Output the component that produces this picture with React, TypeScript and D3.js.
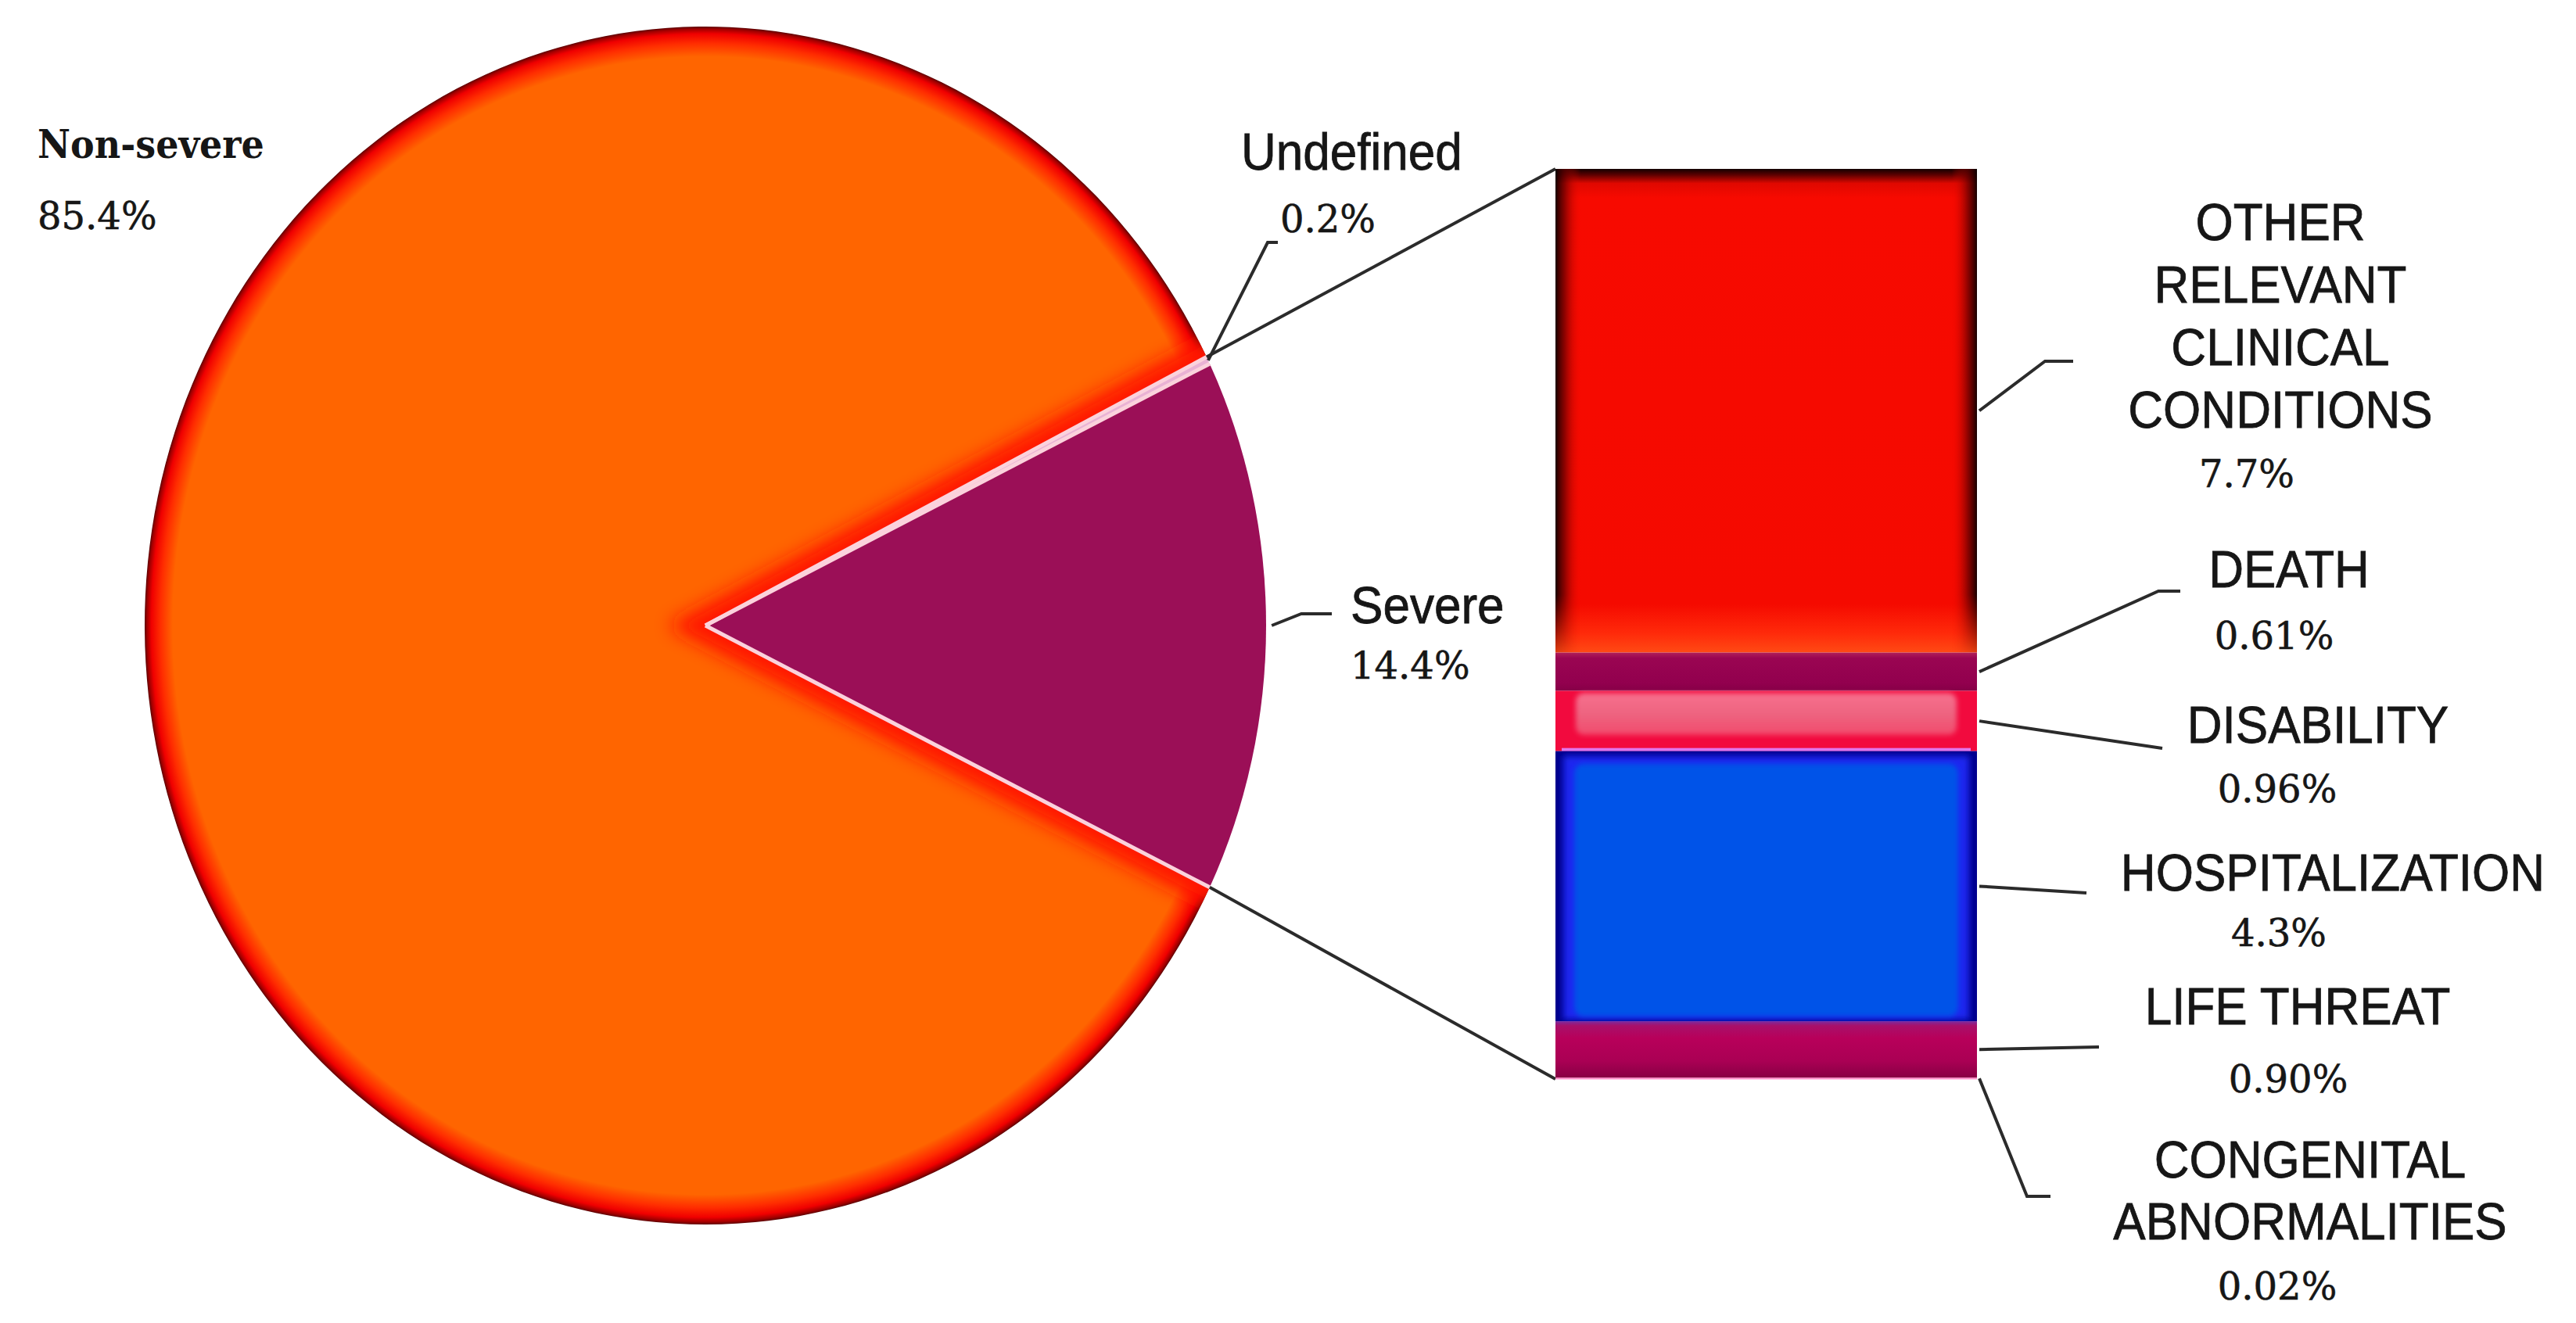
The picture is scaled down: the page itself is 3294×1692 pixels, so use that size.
import React from 'react';
import * as d3 from 'd3';

// ---- data ----
const pieCategories = ['Severe', 'Non-severe', 'Undefined'];
const pieValues = [14.4, 85.4, 0.2];
const pieValueLabels = ['14.4%', '85.4%', '0.2%'];

const barCategories = [
  'OTHER RELEVANT CLINICAL CONDITIONS',
  'DEATH',
  'DISABILITY',
  'HOSPITALIZATION',
  'LIFE THREAT',
  'CONGENITAL ABNORMALITIES',
];
const barLabelLines = [
  ['OTHER', 'RELEVANT', 'CLINICAL', 'CONDITIONS'],
  ['DEATH'],
  ['DISABILITY'],
  ['HOSPITALIZATION'],
  ['LIFE THREAT'],
  ['CONGENITAL', 'ABNORMALITIES'],
];
const barValues = [7.7, 0.61, 0.96, 4.3, 0.9, 0.02];
const barValueLabels = ['7.7%', '0.61%', '0.96%', '4.3%', '0.90%', '0.02%'];

// ---- layout (annotation placement) ----
const W = 3294;
const H = 1692;
const CX = 902;
const CY = 800;
const RY = 766;
const RX = 717;
const BAR_X0 = 1989;
const BAR_X1 = 2528;
const BAR_Y0 = 216;
const BAR_Y1 = 1380;

const barLabelLayout = [
  { leader: [[2615, 462], [2651, 462]], tx: 2916, ty: 307, dy: 80, px: 2873, py: 623 },
  { leader: [[2760, 756], [2788, 756]], tx: 2927, ty: 751, dy: 80, px: 2908, py: 830 },
  { leader: [[2765, 957]], tx: 2964, ty: 950, dy: 80, px: 2912, py: 1026 },
  { leader: [[2668, 1142]], tx: 2983, ty: 1139, dy: 80, px: 2914, py: 1210 },
  { leader: [[2684, 1339]], tx: 2938, ty: 1310, dy: 80, px: 2926, py: 1397 },
  { leader: [[2592, 1530], [2622, 1530]], tx: 2954, ty: 1506, dy: 79, px: 2912, py: 1662 },
];

const SANS = "'Liberation Sans', Arial, Helvetica, sans-serif";
const SERIF = "'DejaVu Serif', 'Liberation Serif', serif";
const TXT = '#161616';
const LINE = '#2b2b2b';

function Sans({ x, y, anchor = 'middle', children }: any) {
  return (
    <text
      transform={`translate(${x},${y}) scale(0.94,1)`}
      textAnchor={anchor}
      fontFamily={SANS}
      fontSize={66}
      fill={TXT}
      stroke={TXT}
      strokeWidth={0.8}
    >
      {children}
    </text>
  );
}

function Pct({ x, y, anchor = 'middle', children }: any) {
  return (
    <text
      x={x}
      y={y}
      textAnchor={anchor}
      fontFamily={SERIF}
      fontSize={48}
      fill={TXT}
      stroke={TXT}
      strokeWidth={0.6}
    >
      {children}
    </text>
  );
}

export default function App() {
  const total = d3.sum(pieValues);
  const start = Math.PI / 2 - (pieValues[0] / total) * Math.PI;
  const pie = d3
    .pie<number>()
    .sort(null)
    .value((d) => d)
    .startAngle(start)
    .endAngle(start + 2 * Math.PI);
  const arcs = pie(pieValues);
  const arc = d3.arc<any>().innerRadius(0).outerRadius(RY);
  const sx = RX / RY;
  const pt = (a: number, r = RY) => [CX + r * sx * Math.sin(a), CY - r * Math.cos(a)];

  const severe = arcs[0];
  const nonSevere = arcs[1];
  const undef = arcs[2];

  const wedge = d3
    .arc<any>()
    .innerRadius(0)
    .outerRadius(RY * 1.05)({ startAngle: undef.startAngle - 2 * Math.PI, endAngle: severe.endAngle });

  const upperPt = pt(undef.startAngle);
  const lowerPt = pt(severe.endAngle);
  const undefMid = pt((undef.startAngle + undef.endAngle) / 2);
  const severeMid = pt((severe.startAngle + severe.endAngle) / 2, RY * 1.01);

  const barTotal = d3.sum(barValues);
  const y = d3.scaleLinear().domain([0, barTotal]).range([BAR_Y0, BAR_Y1]);
  const cum = Array.from(d3.cumsum(barValues));
  const segs = barValues.map((v, i) => ({ y0: y(cum[i] - v), y1: y(cum[i]), cat: barCategories[i] }));
  const bw = BAR_X1 - BAR_X0;

  const lineGen = d3.line();

  return (
    <svg
      width={W}
      height={H}
      viewBox={`0 0 ${W} ${H}`}
      style={{ position: 'absolute', left: 0, top: 0, background: '#fff' }}
    >
      <defs>
        <radialGradient id="nsGrad" gradientUnits="userSpaceOnUse" cx={0} cy={0} r={RY}>
          <stop offset="0" stopColor="#ff6500" />
          <stop offset="0.95" stopColor="#ff6500" />
          <stop offset="0.972" stopColor="#ff2d00" />
          <stop offset="0.988" stopColor="#f00000" />
          <stop offset="0.996" stopColor="#a00000" />
          <stop offset="1" stopColor="#5a0000" />
        </radialGradient>
        <clipPath id="nsClip">
          <path d={arc(nonSevere) as string} />
        </clipPath>
        <filter id="blur12" x="-20%" y="-20%" width="140%" height="140%">
          <feGaussianBlur stdDeviation="12" />
        </filter>
        <filter id="blur4" x="-10%" y="-10%" width="120%" height="120%">
          <feGaussianBlur stdDeviation="4" />
        </filter>
        <filter id="blur3" x="-10%" y="-10%" width="120%" height="120%">
          <feGaussianBlur stdDeviation="3" />
        </filter>
        <linearGradient id="gOther" x1="0" y1="0" x2="0" y2="1">
          <stop offset="0" stopColor="#120000" />
          <stop offset="0.012" stopColor="#5a0000" />
          <stop offset="0.03" stopColor="#e00800" />
          <stop offset="0.06" stopColor="#f70a00" />
          <stop offset="0.9" stopColor="#f50a00" />
          <stop offset="0.96" stopColor="#ff2a0a" />
          <stop offset="1" stopColor="#ff4a14" />
        </linearGradient>
        <linearGradient id="gOtherSides" x1="0" y1="0" x2="1" y2="0">
          <stop offset="0" stopColor="#0a0000" stopOpacity="0.95" />
          <stop offset="0.022" stopColor="#600000" stopOpacity="0.7" />
          <stop offset="0.06" stopColor="#f00a00" stopOpacity="0" />
          <stop offset="0.94" stopColor="#f00a00" stopOpacity="0" />
          <stop offset="0.978" stopColor="#600000" stopOpacity="0.7" />
          <stop offset="1" stopColor="#0a0000" stopOpacity="0.95" />
        </linearGradient>
        <linearGradient id="gOtherSidesFade" x1="0" y1="0" x2="0" y2="1">
          <stop offset="0" stopColor="#fff" stopOpacity="1" />
          <stop offset="0.88" stopColor="#fff" stopOpacity="1" />
          <stop offset="1" stopColor="#fff" stopOpacity="0.15" />
        </linearGradient>
        <mask id="otherMask" maskContentUnits="objectBoundingBox">
          <rect x={0} y={0} width={1} height={1} fill="url(#gOtherSidesFade)" />
        </mask>
        <linearGradient id="gDeath" x1="0" y1="0" x2="0" y2="1">
          <stop offset="0" stopColor="#b0205a" />
          <stop offset="0.15" stopColor="#9a0552" />
          <stop offset="0.8" stopColor="#92004e" />
          <stop offset="1" stopColor="#860046" />
        </linearGradient>
        <linearGradient id="gDisInner" x1="0" y1="0" x2="0" y2="1">
          <stop offset="0" stopColor="#f7708e" />
          <stop offset="0.5" stopColor="#ee6480" />
          <stop offset="1" stopColor="#f24a6c" />
        </linearGradient>
        <linearGradient id="gLife" x1="0" y1="0" x2="0" y2="1">
          <stop offset="0" stopColor="#7a2aa0" />
          <stop offset="0.08" stopColor="#a8106a" />
          <stop offset="0.3" stopColor="#b8005a" />
          <stop offset="0.7" stopColor="#aa0054" />
          <stop offset="1" stopColor="#880044" />
        </linearGradient>
      </defs>

      <rect x={0} y={0} width={W} height={H} fill="#fff" />

      {/* ---- pie ---- */}
      <g transform={`translate(${CX},${CY}) scale(${sx},1)`}>
        <path d={arc(nonSevere) as string} fill="url(#nsGrad)" />
        <g clipPath="url(#nsClip)">
          <path d={wedge as string} fill="none" stroke="#ff1400" strokeWidth={46} filter="url(#blur12)" />
        </g>
        <path d={arc(severe) as string} fill="#9b0f57" />
        <path d={arc(undef) as string} fill="#e9b2d4" />
        {[undef.startAngle, severe.startAngle, severe.endAngle].map((a, i) => (
          <line
            key={i}
            x1={0}
            y1={0}
            x2={RY * Math.sin(a)}
            y2={-RY * Math.cos(a)}
            stroke="#fbd2dc"
            strokeWidth={5}
            vectorEffect="non-scaling-stroke"
          />
        ))}
      </g>

      {/* connector lines pie -> bar */}
      <line x1={upperPt[0]} y1={upperPt[1]} x2={BAR_X0} y2={BAR_Y0} stroke={LINE} strokeWidth={4} />
      <line x1={lowerPt[0]} y1={lowerPt[1]} x2={BAR_X0} y2={BAR_Y1} stroke={LINE} strokeWidth={4} />

      {/* pie labels */}
      <text
        transform="translate(48,202) scale(0.92,1)"
        fontFamily={SERIF}
        fontWeight="bold"
        fontSize={50}
        fill={TXT}
      >
        {pieCategories[1]}
      </text>
      <Pct x={48} y={293} anchor="start">{pieValueLabels[1]}</Pct>

      <path
        d={lineGen([[undefMid[0], undefMid[1]], [1621, 310], [1634, 310]] as any) as string}
        fill="none"
        stroke={LINE}
        strokeWidth={4}
      />
      <Sans x={1587} y={217} anchor="start">{pieCategories[2]}</Sans>
      <Pct x={1637} y={297} anchor="start">{pieValueLabels[2]}</Pct>

      <path
        d={lineGen([[severeMid[0], severeMid[1]], [1664, 785], [1703, 785]] as any) as string}
        fill="none"
        stroke={LINE}
        strokeWidth={4}
      />
      <Sans x={1727} y={797} anchor="start">{pieCategories[0]}</Sans>
      <Pct x={1727} y={868} anchor="start">{pieValueLabels[0]}</Pct>

      {/* ---- bar ---- */}
      {segs.map((s, i) => {
        const h = s.y1 - s.y0;
        if (i === 0) {
          return (
            <g key={i}>
              <rect x={BAR_X0} y={s.y0} width={bw} height={h} fill="url(#gOther)" />
              <rect
                x={BAR_X0}
                y={s.y0}
                width={bw}
                height={h}
                fill="url(#gOtherSides)"
                mask="url(#otherMask)"
              />
            </g>
          );
        }
        if (i === 1) {
          return <rect key={i} x={BAR_X0} y={s.y0} width={bw} height={h} fill="url(#gDeath)" />;
        }
        if (i === 2) {
          return (
            <g key={i}>
              <rect x={BAR_X0} y={s.y0} width={bw} height={h} fill="#f20a3e" />
              <rect
                x={BAR_X0 + 26}
                y={s.y0 + 3}
                width={bw - 52}
                height={h - 24}
                rx={10}
                fill="url(#gDisInner)"
                filter="url(#blur3)"
              />
              <rect x={BAR_X0 + 8} y={s.y1 - 4} width={bw - 16} height={4} fill="#e478ee" />
            </g>
          );
        }
        if (i === 3) {
          return (
            <g key={i}>
              <rect x={BAR_X0} y={s.y0} width={bw} height={h} fill="#00008c" />
              <rect
                x={BAR_X0 + 10}
                y={s.y0 + 6}
                width={bw - 20}
                height={h - 8}
                fill="#1a26f0"
                filter="url(#blur4)"
              />
              <rect
                x={BAR_X0 + 24}
                y={s.y0 + 16}
                width={bw - 48}
                height={h - 22}
                rx={12}
                fill="#0052e8"
                filter="url(#blur3)"
              />
            </g>
          );
        }
        if (i === 4) {
          return <rect key={i} x={BAR_X0} y={s.y0} width={bw} height={h} fill="url(#gLife)" />;
        }
        return <rect key={i} x={BAR_X0} y={s.y0} width={bw} height={Math.max(h, 2)} fill="#ff8cc8" />;
      })}

      {/* bar labels */}
      {segs.map((s, i) => {
        const L = barLabelLayout[i];
        const startPt = [BAR_X1 + 3, (s.y0 + s.y1) / 2];
        return (
          <g key={`lab${i}`}>
            <path
              d={lineGen([startPt, ...L.leader] as any) as string}
              fill="none"
              stroke={LINE}
              strokeWidth={4}
            />
            {barLabelLines[i].map((ln, j) => (
              <Sans key={j} x={L.tx} y={L.ty + j * L.dy}>
                {ln}
              </Sans>
            ))}
            <Pct x={L.px} y={L.py}>{barValueLabels[i]}</Pct>
          </g>
        );
      })}
    </svg>
  );
}
